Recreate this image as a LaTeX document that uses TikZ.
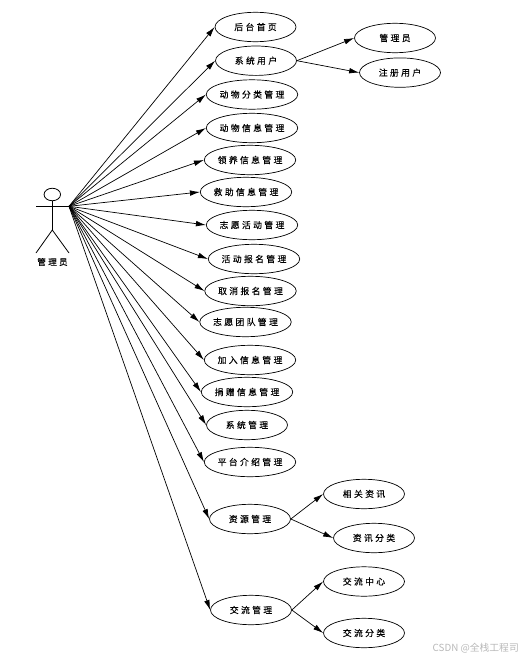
\documentclass[tikz,border=0pt]{standalone}
\usepackage{fontspec}
\setmainfont{Noto Sans CJK SC}[LetterSpace=27,FakeBold=0.25]
\newfontfamily\markfont{Noto Sans CJK SC}
\usetikzlibrary{arrows.meta,positioning,shapes.geometric}

\begin{document}
\begin{tikzpicture}[
    x=1pt, y=-1pt,
    usecase/.style={draw, ellipse, inner sep=0pt, line width=0.7pt,
                    minimum width=81pt, minimum height=29.4pt,
                    font=\fontsize{8.8}{10}\selectfont, fill=white},
    arr/.style={-{Latex[length=10pt, width=5.6pt]}, line width=0.7pt},
    stick/.style={line width=0.8pt},
    caption/.style={inner sep=0pt, font=\fontsize{8.6}{10}\selectfont},
    watermark/.style={inner sep=0pt, text=black!28, font=\markfont\fontsize{9.8}{10}\selectfont}
]
\useasboundingbox (0,0) rectangle (523,659);

% Actor
\node[draw, ellipse, stick, inner sep=0pt, minimum width=16.5pt, minimum height=12.5pt] (head) at (52.3,194.5) {};
\coordinate (lhand) at (36,206.3);
\coordinate (rhand) at (69,206.3);
\coordinate (hip) at (52.3,230);
\coordinate (lfoot) at (36,253);
\coordinate (rfoot) at (69,253);
\node[caption] (admin) at (52.5,262) {管理员};
\draw[stick] (head.south) -- (hip);
\draw[stick] (lhand) -- (rhand);
\draw[stick] (lfoot) -- (hip) -- (rfoot);

% First level
\node[usecase] (home) at (255.5,27) {后台首页};
\node[usecase] (user) at (256,60.7) {系统用户};
\node[usecase] (acat) at (252,94.5) {动物分类管理};
\node[usecase] (ainfo) at (252,128) {动物信息管理};
\node[usecase] (adopt) at (250,160) {领养信息管理};
\node[usecase] (rescue) at (246,192) {救助信息管理};
\node[usecase] (vact) at (252,225) {志愿活动管理};
\node[usecase] (signup) at (254,259) {活动报名管理};
\node[usecase] (cancel) at (250.5,291) {取消报名管理};
\node[usecase] (team) at (245.5,322) {志愿团队管理};
\node[usecase] (join) at (250,360) {加入信息管理};
\node[usecase] (donate) at (247,392) {捐赠信息管理};
\node[usecase] (sys) at (247,425) {系统管理};
\node[usecase] (intro) at (250,462) {平台介绍管理};
\node[usecase] (res) at (250,519) {资源管理};
\node[usecase] (talk) at (251,610) {交流管理};

% Actor to first level
\draw[arr] (rhand) -- (home.west);
\draw[arr] (rhand) -- (user.west);
\draw[arr] (rhand) -- (acat.west);
\draw[arr] (rhand) -- (ainfo.west);
\draw[arr] (rhand) -- (adopt.west);
\draw[arr] (rhand) -- (rescue.west);
\draw[arr] (rhand) -- (vact.west);
\draw[arr] (rhand) -- (signup.west);
\draw[arr] (rhand) -- (cancel.west);
\draw[arr] (rhand) -- (team.west);
\draw[arr] (rhand) -- (join.west);
\draw[arr] (rhand) -- (donate.west);
\draw[arr] (rhand) -- (sys.west);
\draw[arr] (rhand) -- (intro.west);
\draw[arr] (rhand) -- (res.west);
\draw[arr] (rhand) -- (talk.west);

% Second level
\node[usecase] (uadmin) at (395,38) {管理员};
\node[usecase] (ureg) at (400,72.6) {注册用户};
\node[usecase] (news) at (364,494) {相关资讯};
\node[usecase] (ncat) at (374,538) {资讯分类};
\node[usecase] (forum) at (364,581.5) {交流中心};
\node[usecase] (fcat) at (364,633) {交流分类};

\draw[arr] (user.east) -- (uadmin.west);
\draw[arr] (user.east) -- (ureg.west);
\draw[arr] (res.east) -- (news.west);
\draw[arr] (res.east) -- (ncat.west);
\draw[arr] (talk.east) -- (forum.west);
\draw[arr] (talk.east) -- (fcat.west);

% Watermark
\node[watermark, anchor=east] (mark) at (519,648) {CSDN @全栈工程司};
\end{tikzpicture}
\end{document}
